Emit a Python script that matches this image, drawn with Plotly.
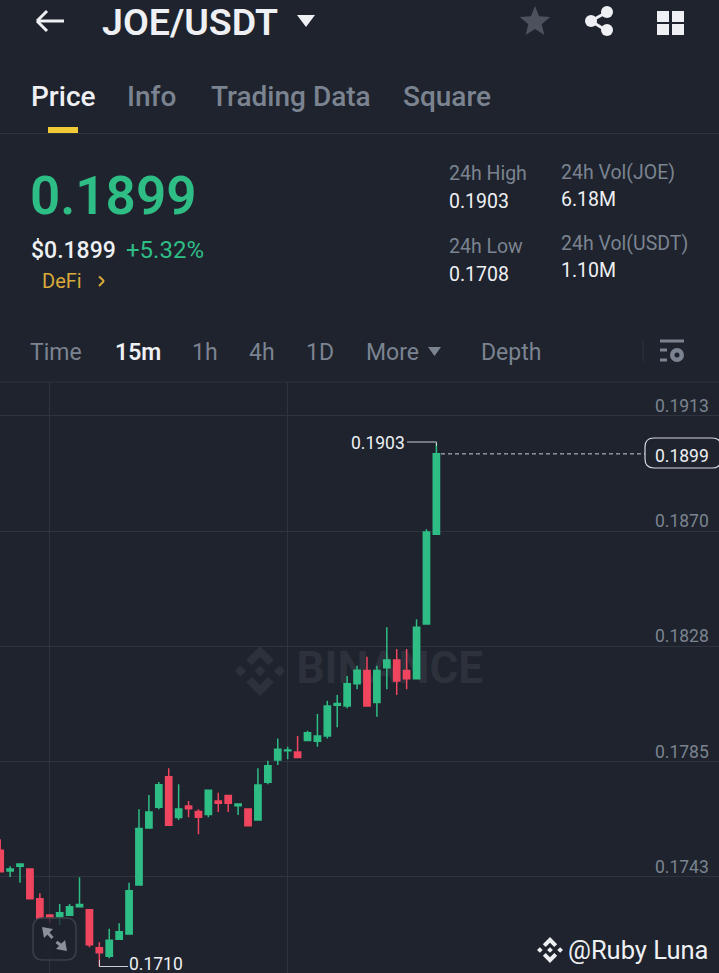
import math

import plotly.graph_objects as go

W = 719
H = 973

# candles
candle_index = list(range(45))
open_prices = [
    0.17529, 0.17452, 0.17470, 0.17459, 0.17350, 0.17290, 0.17283, 0.17289, 0.17320,
    0.17309, 0.17169, 0.17138, 0.17200, 0.17220, 0.17400, 0.17611, 0.17687, 0.17800,
    0.17649, 0.17692, 0.17671, 0.17660, 0.17710, 0.17730, 0.17693, 0.17681, 0.17640,
    0.17779, 0.17861, 0.17895, 0.17891, 0.17933, 0.17930, 0.17950, 0.18063, 0.18060,
    0.18142, 0.18191, 0.18073, 0.18201, 0.18230, 0.18191, 0.18161, 0.18363, 0.18694,
]
high_prices = [
    0.17569, 0.17470, 0.17480, 0.17459, 0.17370, 0.17290, 0.17330, 0.17330, 0.17429,
    0.17309, 0.17189, 0.17239, 0.17259, 0.17409, 0.17680, 0.17732, 0.17780, 0.17831,
    0.17772, 0.17710, 0.17680, 0.17750, 0.17741, 0.17730, 0.17699, 0.17681, 0.17831,
    0.17859, 0.17941, 0.17910, 0.17950, 0.17969, 0.18031, 0.18080, 0.18101, 0.18171,
    0.18209, 0.18242, 0.18209, 0.18351, 0.18271, 0.18271, 0.18380, 0.18712, 0.19030,
]
low_prices = [
    0.17449, 0.17430, 0.17409, 0.17350, 0.17278, 0.17260, 0.17253, 0.17289, 0.17320,
    0.17171, 0.17100, 0.17130, 0.17200, 0.17220, 0.17400, 0.17611, 0.17680, 0.17621,
    0.17640, 0.17650, 0.17588, 0.17650, 0.17670, 0.17670, 0.17659, 0.17619, 0.17640,
    0.17772, 0.17843, 0.17864, 0.17871, 0.17933, 0.17910, 0.17941, 0.17982, 0.18052,
    0.18122, 0.18060, 0.18021, 0.18122, 0.18101, 0.18122, 0.18161, 0.18363, 0.18694,
]
close_prices = [
    0.17449, 0.17459, 0.17478, 0.17350, 0.17278, 0.17278, 0.17298, 0.17320, 0.17329,
    0.17180, 0.17151, 0.17197, 0.17228, 0.17379, 0.17609, 0.17670, 0.17770, 0.17621,
    0.17681, 0.17682, 0.17650, 0.17750, 0.17702, 0.17702, 0.17699, 0.17619, 0.17769,
    0.17840, 0.17901, 0.17898, 0.17871, 0.17962, 0.17950, 0.18060, 0.18070, 0.18142,
    0.18192, 0.18060, 0.18191, 0.18230, 0.18153, 0.18161, 0.18351, 0.18702, 0.18990,
]

grid_prices = [0.1913, 0.18705, 0.1828, 0.17855, 0.1743]
grid_labels = ["0.1913", "0.1870", "0.1828", "0.1785", "0.1743"]
grid_candles = [5, 29]

last_price = 0.1899
high_price = 0.1903
low_price = 0.1710
high_candle = 44
low_candle = 10

BG = "#1e232d"
GRID = "#2e333d"
GREEN = "#2ebd85"
RED = "#f0455f"
GRAY = "#7b8391"
WHITE = "#eef0f3"
YELLOW = "#d9a93a"
FONT = "Roboto"

# the price axis spans y=382..973 px, candles are 9.91 px apart
CHART_TOP = 382
Y_RANGE = [0.17076, 0.19255]
X_RANGE = [-0.02, 72.51]


def px(x):
    return x / W


def py(y):
    return 1 - y / H


def poly(points):
    return "M" + " L".join(f"{px(x)} {py(y)}" for x, y in points) + " Z"


def rounded(x0, y0, x1, y1, r):
    return (
        f"M{px(x0 + r)} {py(y0)} L{px(x1 - r)} {py(y0)} Q{px(x1)} {py(y0)} {px(x1)} {py(y0 + r)} "
        f"L{px(x1)} {py(y1 - r)} Q{px(x1)} {py(y1)} {px(x1 - r)} {py(y1)} "
        f"L{px(x0 + r)} {py(y1)} Q{px(x0)} {py(y1)} {px(x0)} {py(y1 - r)} "
        f"L{px(x0)} {py(y0 + r)} Q{px(x0)} {py(y0)} {px(x0 + r)} {py(y0)} Z"
    )


shapes = []
annotations = []


def fill_shape(path, color, layer="above"):
    shapes.append(dict(type="path", xref="paper", yref="paper", path=path,
                       fillcolor=color, line=dict(width=0), layer=layer))


def line_px(x0, y0, x1, y1, color, width=1.0):
    shapes.append(dict(type="line", xref="paper", yref="paper", x0=px(x0), y0=py(y0),
                       x1=px(x1), y1=py(y1), line=dict(color=color, width=width)))


def circle_px(cx, cy, r, color):
    shapes.append(dict(type="circle", xref="paper", yref="paper", x0=px(cx - r), y0=py(cy - r),
                       x1=px(cx + r), y1=py(cy + r), fillcolor=color, line=dict(width=0)))


def label(x, y, text, size, color, weight=400, anchor="left"):
    annotations.append(dict(
        xref="paper", yref="paper", x=px(x), y=py(y), text=text, showarrow=False,
        xanchor=anchor, yanchor="middle", xshift=0, borderpad=0,
        font=dict(family=FONT, size=size, color=color, weight=weight),
    ))


def logo(cx, cy, r, color, layer="above"):
    def d(ox, oy, s):
        return poly([(cx + (ox) * r, cy + (oy - s) * r), (cx + (ox + s) * r, cy + oy * r),
                     (cx + ox * r, cy + (oy + s) * r), (cx + (ox - s) * r, cy + oy * r)])

    fill_shape(d(0, 0, 0.22), color, layer)
    fill_shape(d(-0.78, 0, 0.22), color, layer)
    fill_shape(d(0.78, 0, 0.22), color, layer)
    for sign in (-1, 1):
        chevron = [(0, 1), (0.55, 0.45), (0.33, 0.23), (0, 0.56), (-0.33, 0.23), (-0.55, 0.45)]
        fill_shape(poly([(cx + a * r, cy + sign * b * r) for a, b in chevron]), color, layer)


# header
line_px(37, 21, 64, 21, WHITE, 3)
line_px(37, 21, 47, 11, WHITE, 3)
line_px(37, 21, 47, 31, WHITE, 3)
label(101, 22, "JOE/USDT", 37.5, WHITE, 600)
fill_shape(poly([(297, 15), (315, 15), (306, 27)]), WHITE)

star = []
for k in range(10):
    r = 16 if k % 2 == 0 else 7
    a = -math.pi / 2 + k * math.pi / 5
    star.append((535 + r * math.cos(a), 22 + r * math.sin(a)))
fill_shape(poly(star), "#4c515d")

line_px(591, 21, 607, 12, WHITE, 3)
line_px(591, 21, 607, 31, WHITE, 3)
circle_px(591, 21, 6, WHITE)
circle_px(607, 12, 6, WHITE)
circle_px(607, 30, 6, WHITE)

for x0, y0 in [(657, 11), (672, 11), (657, 24), (672, 24)]:
    fill_shape(poly([(x0, y0), (x0 + 12, y0), (x0 + 12, y0 + 11), (x0, y0 + 11)]), WHITE)

# tabs
label(30, 97, "Price", 28, WHITE, 500)
label(126, 97, "Info", 28, GRAY, 500)
label(210, 97, "Trading Data", 28, GRAY, 500)
label(402, 97, "Square", 28, GRAY, 500)
fill_shape(poly([(48, 127), (78, 127), (78, 133), (48, 133)]), "#f0cb35")
line_px(0, 133.5, W, 133.5, GRID, 1.2)

# ticker block
label(29, 196, "0.1899", 53, GREEN, 600)
label(30, 250, "$0.1899", 23, WHITE, 500)
label(125, 250, "+5.32%", 24, GREEN, 400)
label(41, 281, "DeFi", 20, YELLOW)
line_px(99, 276.5, 104, 281, YELLOW, 2)
line_px(104, 281, 99, 286, YELLOW, 2)

label(448, 174, "24h High", 19.5, GRAY)
label(448, 202, "0.1903", 19.5, WHITE)
label(448, 246, "24h Low", 19.5, GRAY)
label(448, 274, "0.1708", 19.5, WHITE)
label(560, 172, "24h Vol(JOE)", 19.5, GRAY)
label(560, 200, "6.18M", 19.5, WHITE)
label(560, 244, "24h Vol(USDT)", 19.5, GRAY)
label(560, 271, "1.10M", 19.5, WHITE)

# interval row
label(29, 353, "Time", 23, GRAY)
label(114, 353, "15m", 23, WHITE, 600)
label(191, 353, "1h", 23, GRAY)
label(248, 353, "4h", 23, GRAY)
label(305, 353, "1D", 23, GRAY)
label(365, 353, "More", 23, GRAY)
fill_shape(poly([(428, 347), (441, 347), (434.5, 356)]), GRAY)
label(480, 353, "Depth", 23, GRAY)
line_px(643, 340, 643, 362, GRID, 1)
line_px(660, 341, 684, 341, GRAY, 3)
line_px(660, 350, 667, 350, GRAY, 3)
line_px(660, 360, 667, 360, GRAY, 3)
circle_px(677, 355, 7, GRAY)
circle_px(677, 355, 2.5, BG)
line_px(0, 382, W, 382, GRID, 1.2)

# watermark under the candles
logo(260, 671, 25, "#2c313b", "below")

# price labels on the grid lines
for price, text in zip(grid_prices, grid_labels):
    annotations.append(dict(
        xref="paper", yref="y", x=px(653), y=price, yshift=10, text=text, showarrow=False,
        xanchor="left", yanchor="middle", font=dict(family=FONT, size=17.5, color=GRAY),
    ))

# last price tag and dashed line
shapes.append(dict(type="line", xref="paper", yref="y", x0=px(441), x1=px(645), y0=last_price,
                   y1=last_price, line=dict(color="#c9ccd2", width=1, dash="4px,3px")))
shapes.append(dict(type="path", xref="paper", yref="paper", path=rounded(645, 438, 721, 468, 9),
                   fillcolor=BG, line=dict(color="#d5d8dd", width=1.2)))
annotations.append(dict(
    xref="paper", yref="y", x=px(653), y=last_price, text=f"{last_price:.4f}", showarrow=False,
    xanchor="left", yanchor="middle", yshift=-2, font=dict(family=FONT, size=17.5, color=WHITE),
))

# high and low callouts
shapes.append(dict(type="path", xref="paper", yref="paper", line=dict(color="#c9ccd2", width=1),
                   path=f"M{px(407)} {py(442)} L{px(436.5)} {py(442)} L{px(436.5)} {py(446)}"))
annotations.append(dict(
    xref="x", yref="y", x=high_candle, y=high_price, xshift=-29.5, text=f"{high_price:.4f}",
    showarrow=False, xanchor="right", yanchor="middle",
    font=dict(family=FONT, size=17.5, color=WHITE),
))
shapes.append(dict(type="path", xref="paper", yref="paper", line=dict(color="#c9ccd2", width=1),
                   path=f"M{px(99.5)} {py(960)} L{px(99.5)} {py(966.5)} L{px(128)} {py(966.5)}"))
annotations.append(dict(
    xref="x", yref="y", x=low_candle, y=low_price, xshift=28, text=f"{low_price:.4f}",
    showarrow=False, xanchor="left", yanchor="middle", yshift=2,
    font=dict(family=FONT, size=17.5, color=WHITE),
))

# fullscreen button
shapes.append(dict(type="path", xref="paper", yref="paper", path=rounded(33, 918, 76, 960, 10),
                   fillcolor="rgba(30,35,45,0.75)", line=dict(color="#3a3f49", width=1.5)))
fill_shape(poly([(42, 927), (53, 929), (44, 938)]), "#8b9099")
fill_shape(poly([(67, 951), (56, 949), (65, 940)]), "#8b9099")
line_px(47, 932, 52.5, 938, "#8b9099", 3)
line_px(56.5, 942, 62, 946, "#8b9099", 3)

# corner credit
logo(550, 950, 13, WHITE)
label(567, 950, "@Ruby Luna", 25.5, WHITE, 400)

fig = go.Figure()
fig.add_trace(go.Scatter(
    x=[39.3], y=[0.18186], mode="text", text=["BINANCE"], hoverinfo="skip",
    textfont=dict(family=FONT, size=44, color="#2c313b", weight=700),
))
fig.add_trace(go.Candlestick(
    x=candle_index, open=open_prices, high=high_prices, low=low_prices, close=close_prices,
    yaxis="y2", whiskerwidth=0,
    increasing=dict(line=dict(color=GREEN, width=1.5), fillcolor=GREEN),
    decreasing=dict(line=dict(color=RED, width=1.5), fillcolor=RED),
))
fig.update_layout(
    width=W,
    height=H,
    autosize=False,
    showlegend=False,
    paper_bgcolor=BG,
    plot_bgcolor=BG,
    margin=dict(l=0, r=0, t=0, b=0),
    boxgap=0.1,
    xaxis=dict(
        range=X_RANGE, rangeslider=dict(visible=False), tickvals=grid_candles, showticklabels=False,
        ticks="", showgrid=True, gridcolor=GRID, gridwidth=1, zeroline=False, showline=False,
    ),
    yaxis=dict(
        domain=[0, py(CHART_TOP)], range=Y_RANGE, tickvals=grid_prices, showticklabels=False,
        ticks="", showgrid=True, gridcolor=GRID, gridwidth=1, zeroline=False, showline=False,
    ),
    yaxis2=dict(
        domain=[0, py(CHART_TOP)], range=Y_RANGE, overlaying="y", visible=False, showgrid=False,
    ),
    shapes=shapes,
    annotations=annotations,
)

fig.write_html(
    "out.html",
    config={"displayModeBar": False},
    post_script="document.body.style.margin='0';document.documentElement.style.overflow='hidden';",
)
